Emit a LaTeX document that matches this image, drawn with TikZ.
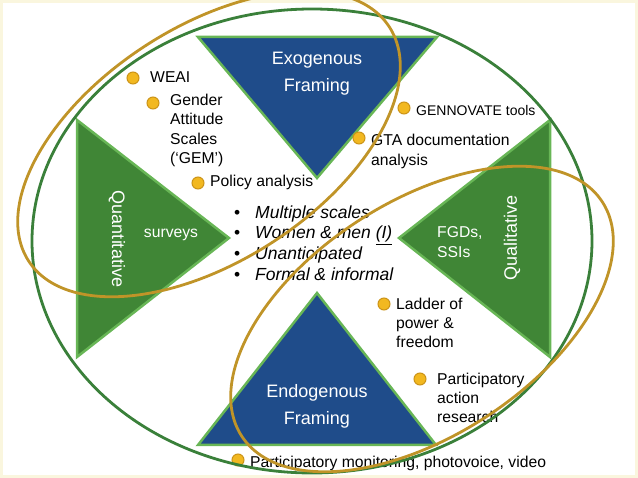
\documentclass[tikz,border=0pt]{standalone}
\usepackage{fontspec}
\setmainfont{Liberation Sans}
\definecolor{exoblue}{RGB}{31,76,138}
\definecolor{methgreen}{RGB}{64,134,54}
\definecolor{rimgreen}{RGB}{104,182,86}
\definecolor{ringgreen}{RGB}{58,128,58}
\definecolor{ringgold}{RGB}{192,148,40}
\definecolor{dotgold}{RGB}{242,184,32}
\definecolor{dotrim}{RGB}{204,148,24}
\definecolor{framecream}{RGB}{250,246,222}

\begin{document}
\begin{tikzpicture}[x=1pt, y=-1pt,
  tri/.style={draw=rimgreen, line width=2.5pt, line join=miter},
  lbl/.style={anchor=west, inner sep=0pt, align=left, font=\fontsize{15.7}{19.2}\selectfont},
  ttl/.style={text=white, align=center, inner sep=0pt, font=\fontsize{18}{27}\selectfont},
  dot/.style={circle, fill=dotgold, draw=dotrim, line width=1pt, minimum size=12pt, inner sep=0pt},
  ring/.style={line width=2.8pt}]
\useasboundingbox (0,0) rectangle (638,478);
\draw[framecream, line width=3pt] (1.5,1.5) rectangle (636.5,476.5);
% framing and method triangles
\fill[exoblue] (198,37) -- (437,37) -- (317,178) -- cycle;
\draw[tri] (198,37) -- (437,37) -- (317,178) -- cycle;
\fill[exoblue] (317,293) -- (436,445) -- (198,445) -- cycle;
\draw[tri] (317,293) -- (436,445) -- (198,445) -- cycle;
\fill[methgreen] (77,120) -- (77,357) -- (229,238) -- cycle;
\draw[tri] (77,120) -- (77,357) -- (229,238) -- cycle;
\fill[methgreen] (550,120) -- (550,357) -- (399,238) -- cycle;
\draw[tri] (550,120) -- (550,357) -- (399,238) -- cycle;
\node[ttl] (exo) at (317,73.5) {Exogenous\\Framing};
\node[ttl] (endo) at (317,406.5) {Endogenous\\Framing};
\node[ttl, rotate=-90] (quant) at (117,239) {Quantitative};
\node[ttl, rotate=90] (qual) at (512,238) {Qualitative};
\node[lbl, anchor=center, text=white] (surveys) at (171,235) {surveys};
\node[lbl, text=white] (fgds) at (437,242) {FGDs,\\SSIs};
% tools
\node[dot] (d1) at (133,78) {};
\node[lbl] (weai) at (150,77) {WEAI};
\node[dot] (d2) at (153,103) {};
\node[lbl] (gender) at (170,130.5) {Gender\\Attitude\\Scales\\(‘GEM’)};
\node[dot] (d3) at (198,183) {};
\node[lbl] (policy) at (210,182) {Policy analysis};
\node[dot] (d4) at (404,108) {};
\node[lbl, font=\fontsize{14}{17}\selectfont] (gennovate) at (416,110) {GENNOVATE tools};
\node[dot] (d5) at (359,138) {};
\node[lbl] (gta) at (371,151.5) {GTA documentation\\analysis};
\node[dot] (d6) at (384,304) {};
\node[lbl] (ladder) at (396,323) {Ladder of\\power \&\\freedom};
\node[dot] (d7) at (420,379) {};
\node[lbl] (action) at (437,398) {Participatory\\action\\research};
\node[dot] (d8) at (238,460) {};
\node[lbl] (monitor) at (250,463) {Participatory monitoring, photovoice, video};
% dimensions
\node[lbl, font=\fontsize{17.5}{20.7}\selectfont] (dims) at (234,243) {%
  \makebox[21pt][l]{•}\textit{Multiple scales}\\
  \makebox[21pt][l]{•}\textit{Women \& men \underline{(I)}}\\
  \makebox[21pt][l]{•}\textit{Unanticipated}\\
  \makebox[21pt][l]{•}\textit{Formal \& informal}};
% rings
\begin{scope}
\clip (0,0) rectangle (638,478);
\draw[ring, ringgreen] (312,241) ellipse [x radius=280pt, y radius=232pt];
\draw[ring, ringgold, shift={(209,144)}, rotate=33] (0,0) ellipse [x radius=215pt, y radius=117pt];
\draw[ring, ringgold, shift={(422,319)}, rotate=33] (0,0) ellipse [x radius=215pt, y radius=117pt];
\end{scope}
\end{tikzpicture}
\end{document}
